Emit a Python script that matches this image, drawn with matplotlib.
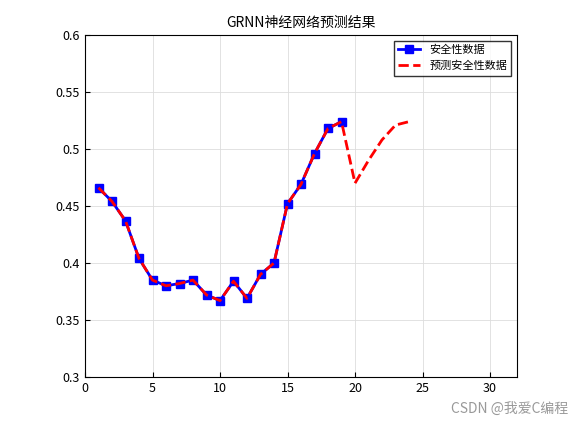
import matplotlib
matplotlib.use("Agg")
import matplotlib.pyplot as plt
from matplotlib.ticker import FormatStrFormatter

plt.rcParams['font.family'] = ['Noto Sans CJK SC', 'DejaVu Sans']

x_true = list(range(1, 20))
y_true = [0.466, 0.454, 0.437, 0.404, 0.385, 0.380, 0.382, 0.385, 0.372, 0.367,
          0.384, 0.369, 0.390, 0.400, 0.452, 0.469, 0.496, 0.518, 0.524]
x_pred = list(range(1, 25))
y_pred = y_true + [0.470, 0.490, 0.508, 0.521, 0.524]

fig = plt.figure(figsize=(5.71, 4.21), dpi=100)
ax = fig.add_axes([85/571, 44/421, 432/571, 342/421])

ax.plot(x_true, y_true, color='b', lw=2, marker='s', markersize=6,
        markerfacecolor='b', label='安全性数据')
ax.plot(x_pred, y_pred, color='r', lw=2, ls='--', label='预测安全性数据')

ax.set_xlim(0, 32)
ax.set_ylim(0.3, 0.6)
ax.set_xticks(range(0, 31, 5))
ax.set_yticks([0.3, 0.35, 0.4, 0.45, 0.5, 0.55, 0.6])
ax.set_yticklabels(['0.3', '0.35', '0.4', '0.45', '0.5', '0.55', '0.6'])
ax.grid(color='#dddddd', lw=0.6)
ax.tick_params(labelsize=9, direction='in')
ax.set_title('GRNN神经网络预测结果', fontsize=10)
ax.legend(loc='upper right', fontsize=8, fancybox=False, edgecolor='k')

fig.text(0.995, 0.02, 'CSDN @我爱C编程', ha='right', fontsize=10, color='#999999')

fig.savefig("out.png")
